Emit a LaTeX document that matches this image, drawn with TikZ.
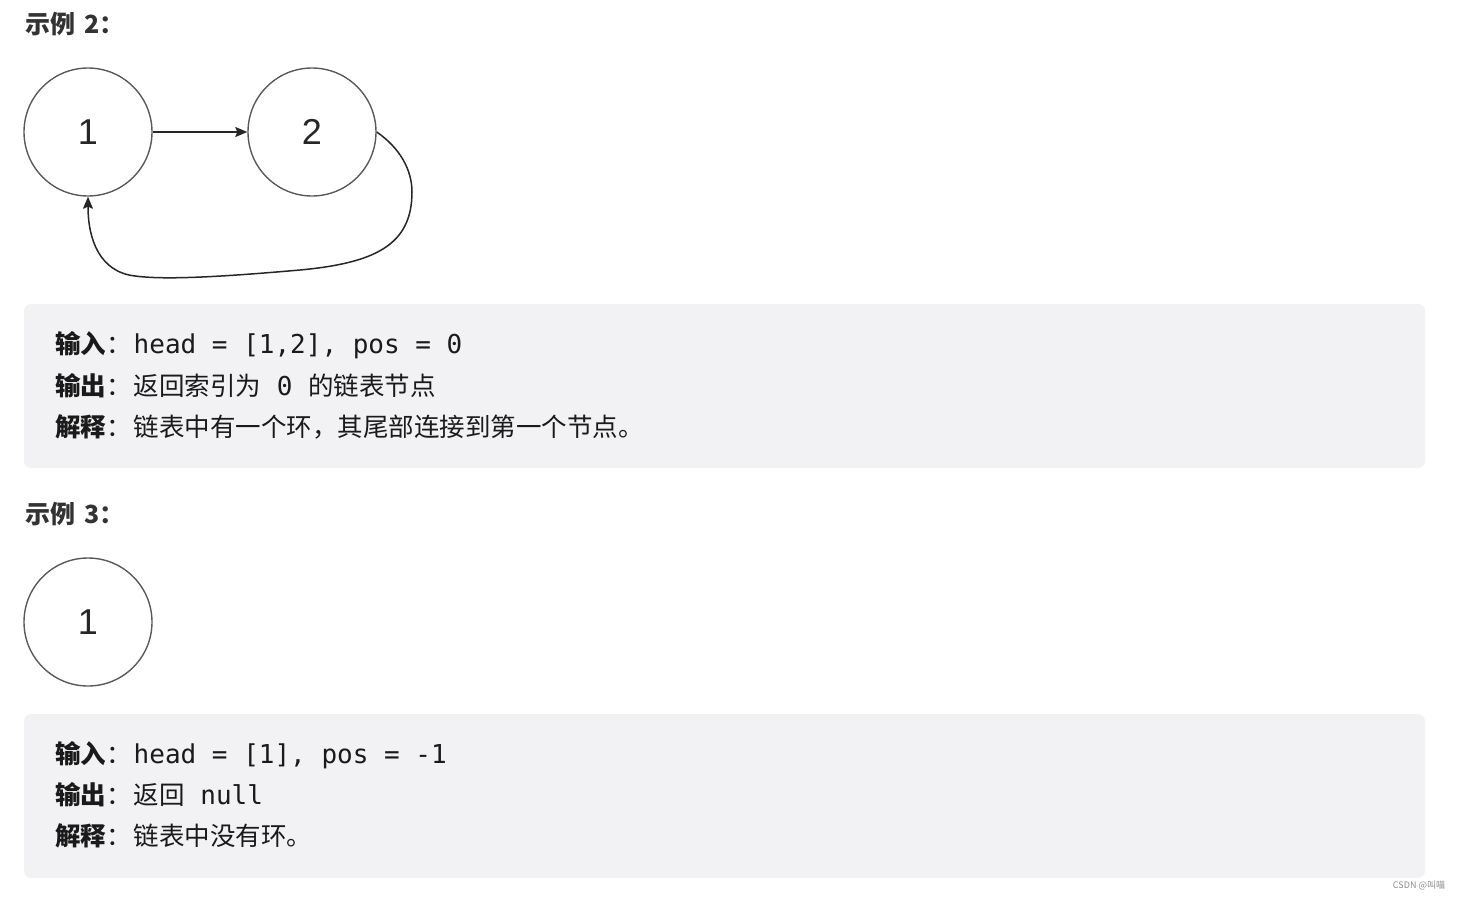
\documentclass[tikz,border=0pt]{standalone}
\usepackage{fontspec}
\setmainfont{Liberation Sans}
\setmonofont{DejaVu Sans Mono}
\newfontfamily\cjk{Noto Sans CJK SC}
\usetikzlibrary{arrows.meta}
\definecolor{boxfill}{RGB}{242,242,245}
\definecolor{headc}{RGB}{51,51,51}
\definecolor{txtc}{RGB}{26,26,26}
\definecolor{ringc}{RGB}{90,90,90}
\tikzset{
  heading/.style={anchor=base west, inner sep=0pt, text=headc, font=\cjk\bfseries\fontsize{25}{30}\selectfont},
  ring/.style={circle, draw=ringc, line width=1.4pt, minimum size=128pt, inner sep=0pt, font=\fontsize{36}{40}\selectfont, text=black!85},
  panel/.style={fill=boxfill, rounded corners=7pt},
  line/.style={anchor=base west, inner sep=0pt, text=txtc, font=\cjk\fontsize{25.5}{30}\selectfont},
  link/.style={draw=black!85, line width=1.5pt, -{Stealth[length=12pt,width=10pt,inset=2pt]}},
  wmark/.style={anchor=center, inner sep=0pt, text=black!45, font=\cjk\fontsize{9}{11}\selectfont}
}
\newcommand{\lab}[1]{{\bfseries #1}：\hspace{2pt}}
\newcommand{\code}[1]{{\ttfamily\fontsize{26}{30}\selectfont #1}}
\begin{document}
\begin{tikzpicture}[x=1pt,y=-1pt]
\useasboundingbox (0,0) rectangle (1460,900);
% Example 2
\node[heading] (h2) at (25,33) {示例\hspace{9pt}2：};
\node[ring] (a1) at (88,132) {1};
\node[ring] (a2) at (312,132) {2};
\draw[link] (a1) -- (a2);
\coordinate (b1) at (412,192);
\coordinate (b2) at (300,270);
\coordinate (b3) at (135,276);
\draw[link] (a2.east) .. controls (400,148) and (412,170) .. (b1)
  .. controls (412,245) and (375,263) .. (b2)
  .. controls (220,277) and (165,280) .. (b3)
  .. controls (100,272) and (88,240) .. (a1.south);
\path[panel] (24,304) rectangle (1425,468);
\node[line] (l1) at (55,353) {\lab{输入}\code{head = [1,2], pos = 0}};
\node[line] (l2) at (55,395) {\lab{输出}返回索引为\code{\ 0\ }的链表节点};
\node[line] (l3) at (55,436) {\lab{解释}链表中有一个环，其尾部连接到第一个节点。};
% Example 3
\node[heading] (h3) at (25,523) {示例\hspace{9pt}3：};
\node[ring] (c1) at (88,622) {1};
\path[panel] (24,714) rectangle (1425,878);
\node[line] (m1) at (55,763) {\lab{输入}\code{head = [1], pos = -1}};
\node[line] (m2) at (55,804) {\lab{输出}返回\code{\ null}};
\node[line] (m3) at (55,845) {\lab{解释}链表中没有环。};
\node[wmark] (wm) at (1419,886) {CSDN @叫喵};
\end{tikzpicture}
\end{document}
